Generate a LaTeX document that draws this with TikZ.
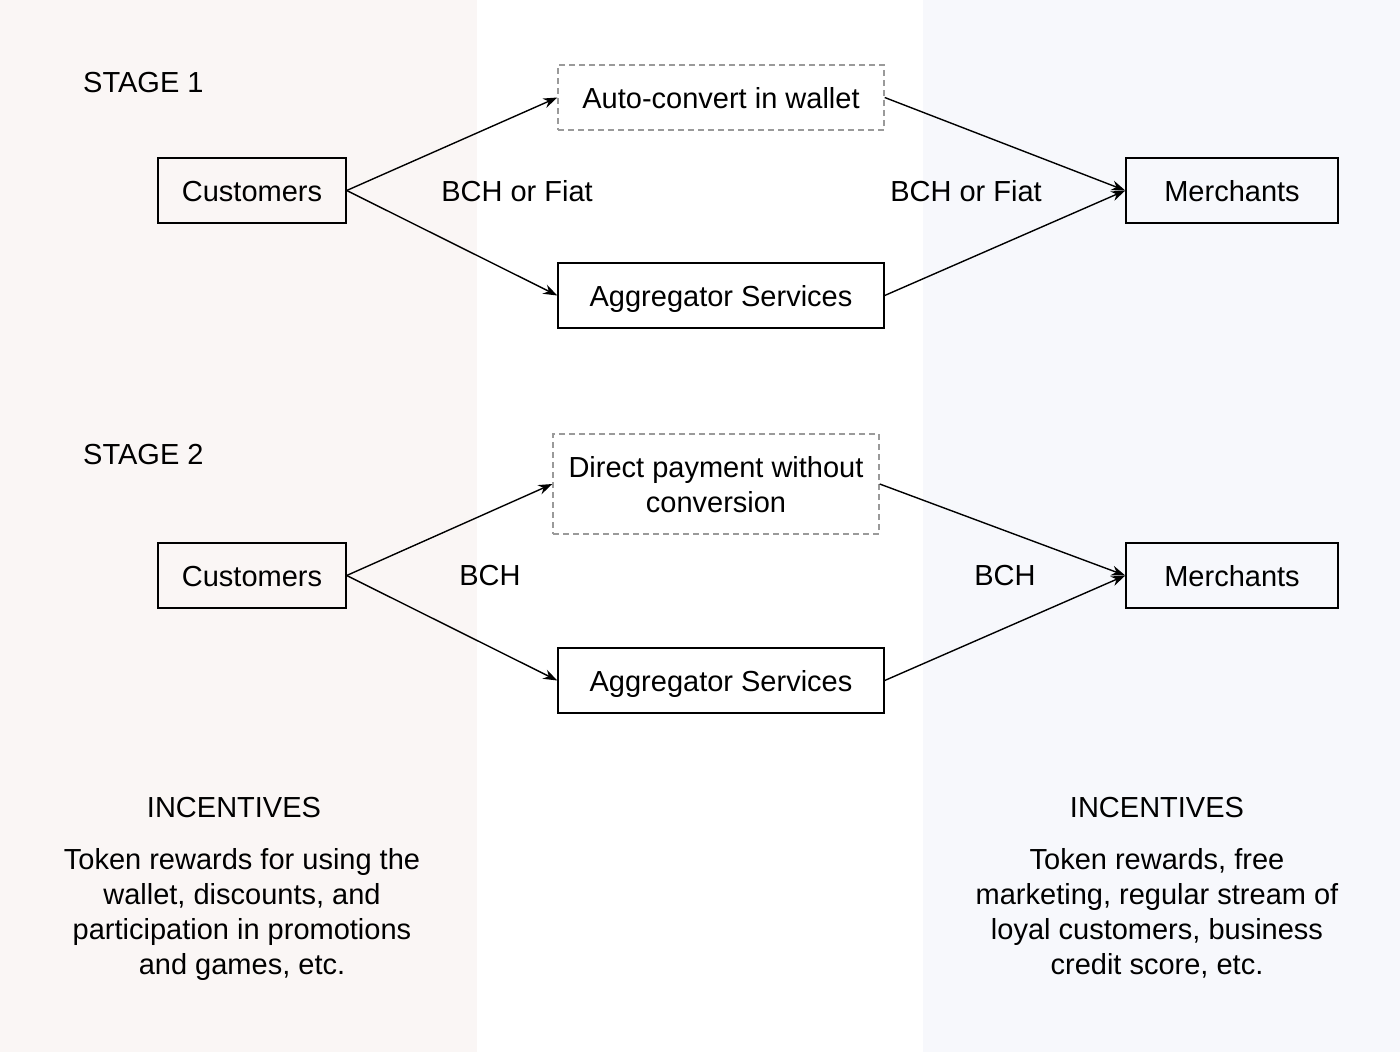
\documentclass[tikz,border=0pt]{standalone}
\usepackage{fontspec}
\setmainfont{Liberation Sans}
\usetikzlibrary{arrows.meta}
\definecolor{leftbg}{HTML}{FAF6F5}
\definecolor{rightbg}{HTML}{F7F8FC}
\definecolor{dashgray}{HTML}{9A9A9A}
\begin{document}
\begin{tikzpicture}[x=1pt,y=-1pt,
  txt/.style={inner sep=0pt,font=\fontsize{29}{35}\selectfont,text height=21pt,text depth=0pt,align=center},
  box/.style={txt,draw=black,line width=1.4pt,minimum height=65pt},
  dbox/.style={txt,draw=dashgray,dash pattern=on 6pt off 4pt,line width=1.4pt},
  conn/.style={line width=1.4pt,-{Stealth[length=14pt,width=10pt]}}]
\useasboundingbox (0,0) rectangle (1400,1052);
\fill[white] (0,0) rectangle (1400,1052);
\fill[leftbg] (0,0) rectangle (477,1052);
\fill[rightbg] (923,0) rectangle (1400,1052);
% Stage 1
\node[txt,anchor=west] (s1) at (83,82) {STAGE 1};
\node[box,minimum width=188pt] (c1) at (252,190.5) {Customers};
\node[dbox,minimum width=326pt,minimum height=65pt] (ac) at (721,97.5) {Auto-convert in wallet};
\node[box,minimum width=326pt] (ag1) at (721,295.5) {Aggregator Services};
\node[box,minimum width=212pt] (m1) at (1232,190.5) {Merchants};
\node[txt] (l1) at (517,191) {BCH or Fiat};
\node[txt] (l2) at (966,191) {BCH or Fiat};
\draw[conn] (c1.east) -- (ac.west);
\draw[conn] (c1.east) -- (ag1.west);
\draw[conn] (ac.east) -- (m1.west);
\draw[conn] (ag1.east) -- (m1.west);
% Stage 2
\node[txt,anchor=west] (s2) at (83,454) {STAGE 2};
\node[box,minimum width=188pt] (c2) at (252,575.5) {Customers};
\node[dbox,minimum width=326pt,minimum height=100pt,text height=56pt] (dp) at (716,484) {Direct payment without\\conversion};
\node[box,minimum width=326pt] (ag2) at (721,680.5) {Aggregator Services};
\node[box,minimum width=212pt] (m2) at (1232,575.5) {Merchants};
\node[txt] (l3) at (490,575) {BCH};
\node[txt] (l4) at (1005,575) {BCH};
\draw[conn] (c2.east) -- (dp.west);
\draw[conn] (c2.east) -- (ag2.west);
\draw[conn] (dp.east) -- (m2.west);
\draw[conn] (ag2.east) -- (m2.west);
% Incentives
\node[txt] (i1) at (234,807) {INCENTIVES};
\node[txt,text height=126pt] (t1) at (242,911) {Token rewards for using the\\wallet, discounts, and\\participation in promotions\\and games, etc.};
\node[txt] (i2) at (1157,807) {INCENTIVES};
\node[txt,text height=126pt] (t2) at (1157,911) {Token rewards, free\\marketing, regular stream of\\loyal customers, business\\credit score, etc.};
\end{tikzpicture}
\end{document}
